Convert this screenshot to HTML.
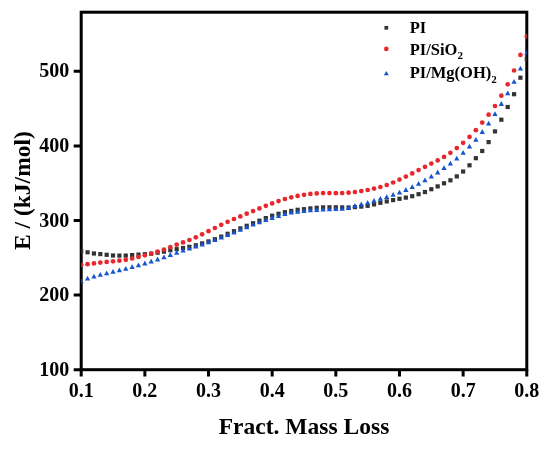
<!DOCTYPE html>
<html><head><meta charset="utf-8"><title>Activation energy vs fractional mass loss</title>
<style>html,body{margin:0;padding:0;background:#fff;}svg{display:block;filter:blur(0.35px);}</style>
</head><body>
<svg width="550" height="449" viewBox="0 0 550 449"><rect width="550" height="449" fill="#fff"/><rect x="81.2" y="12.2" width="445.60" height="357.50" fill="none" stroke="#000" stroke-width="3.0"/><path d="M81.20 369.70V376.40M144.86 369.70V376.40M208.51 369.70V376.40M272.17 369.70V376.40M335.83 369.70V376.40M399.49 369.70V376.40M463.14 369.70V376.40M526.80 369.70V376.40M81.20 369.70H73.70M81.20 295.10H73.70M81.20 220.50H73.70M81.20 145.90H73.70M81.20 71.30H73.70" stroke="#000" stroke-width="3.0" fill="none"/><defs><clipPath id="c"><rect x="81.2" y="0" width="445.60" height="449"/></clipPath></defs><g clip-path="url(#c)"><g fill="#333333"><rect x="79.10" y="249.10" width="4.20" height="4.20"/><rect x="85.47" y="250.20" width="4.20" height="4.20"/><rect x="91.83" y="251.40" width="4.20" height="4.20"/><rect x="98.20" y="252.00" width="4.20" height="4.20"/><rect x="104.56" y="252.70" width="4.20" height="4.20"/><rect x="110.93" y="253.40" width="4.20" height="4.20"/><rect x="117.29" y="253.50" width="4.20" height="4.20"/><rect x="123.66" y="253.50" width="4.20" height="4.20"/><rect x="130.03" y="253.00" width="4.20" height="4.20"/><rect x="136.39" y="252.50" width="4.20" height="4.20"/><rect x="142.76" y="252.10" width="4.20" height="4.20"/><rect x="149.12" y="251.60" width="4.20" height="4.20"/><rect x="155.49" y="250.60" width="4.20" height="4.20"/><rect x="161.85" y="249.50" width="4.20" height="4.20"/><rect x="168.22" y="248.10" width="4.20" height="4.20"/><rect x="174.59" y="247.10" width="4.20" height="4.20"/><rect x="180.95" y="245.90" width="4.20" height="4.20"/><rect x="187.32" y="244.70" width="4.20" height="4.20"/><rect x="193.68" y="243.20" width="4.20" height="4.20"/><rect x="200.05" y="241.30" width="4.20" height="4.20"/><rect x="206.41" y="239.30" width="4.20" height="4.20"/><rect x="212.78" y="237.10" width="4.20" height="4.20"/><rect x="219.15" y="234.50" width="4.20" height="4.20"/><rect x="225.51" y="231.70" width="4.20" height="4.20"/><rect x="231.88" y="229.10" width="4.20" height="4.20"/><rect x="238.24" y="226.30" width="4.20" height="4.20"/><rect x="244.61" y="223.70" width="4.20" height="4.20"/><rect x="250.97" y="221.10" width="4.20" height="4.20"/><rect x="257.34" y="218.60" width="4.20" height="4.20"/><rect x="263.71" y="216.00" width="4.20" height="4.20"/><rect x="270.07" y="213.60" width="4.20" height="4.20"/><rect x="276.44" y="211.70" width="4.20" height="4.20"/><rect x="282.80" y="210.10" width="4.20" height="4.20"/><rect x="289.17" y="208.80" width="4.20" height="4.20"/><rect x="295.53" y="207.70" width="4.20" height="4.20"/><rect x="301.90" y="207.10" width="4.20" height="4.20"/><rect x="308.27" y="206.30" width="4.20" height="4.20"/><rect x="314.63" y="205.70" width="4.20" height="4.20"/><rect x="321.00" y="205.30" width="4.20" height="4.20"/><rect x="327.36" y="205.20" width="4.20" height="4.20"/><rect x="333.73" y="205.20" width="4.20" height="4.20"/><rect x="340.09" y="205.30" width="4.20" height="4.20"/><rect x="346.46" y="205.40" width="4.20" height="4.20"/><rect x="352.83" y="205.00" width="4.20" height="4.20"/><rect x="359.19" y="204.50" width="4.20" height="4.20"/><rect x="365.56" y="203.70" width="4.20" height="4.20"/><rect x="371.92" y="202.30" width="4.20" height="4.20"/><rect x="378.29" y="200.70" width="4.20" height="4.20"/><rect x="384.65" y="199.30" width="4.20" height="4.20"/><rect x="391.02" y="198.00" width="4.20" height="4.20"/><rect x="397.39" y="196.70" width="4.20" height="4.20"/><rect x="403.75" y="195.50" width="4.20" height="4.20"/><rect x="410.12" y="194.10" width="4.20" height="4.20"/><rect x="416.48" y="192.10" width="4.20" height="4.20"/><rect x="422.85" y="189.90" width="4.20" height="4.20"/><rect x="429.21" y="187.10" width="4.20" height="4.20"/><rect x="435.58" y="184.30" width="4.20" height="4.20"/><rect x="441.95" y="181.20" width="4.20" height="4.20"/><rect x="448.31" y="178.20" width="4.20" height="4.20"/><rect x="454.68" y="174.30" width="4.20" height="4.20"/><rect x="461.04" y="169.40" width="4.20" height="4.20"/><rect x="467.41" y="163.20" width="4.20" height="4.20"/><rect x="473.77" y="156.10" width="4.20" height="4.20"/><rect x="480.14" y="148.90" width="4.20" height="4.20"/><rect x="486.51" y="140.00" width="4.20" height="4.20"/><rect x="492.87" y="129.30" width="4.20" height="4.20"/><rect x="499.24" y="117.60" width="4.20" height="4.20"/><rect x="505.60" y="104.90" width="4.20" height="4.20"/><rect x="511.97" y="92.10" width="4.20" height="4.20"/><rect x="518.33" y="75.60" width="4.20" height="4.20"/><rect x="524.70" y="57.00" width="4.20" height="4.20"/></g><g fill="#e8262b"><circle cx="81.20" cy="264.80" r="2.35"/><circle cx="87.57" cy="264.20" r="2.35"/><circle cx="93.93" cy="263.40" r="2.35"/><circle cx="100.30" cy="262.60" r="2.35"/><circle cx="106.66" cy="261.90" r="2.35"/><circle cx="113.03" cy="261.30" r="2.35"/><circle cx="119.39" cy="260.70" r="2.35"/><circle cx="125.76" cy="259.80" r="2.35"/><circle cx="132.13" cy="258.50" r="2.35"/><circle cx="138.49" cy="256.90" r="2.35"/><circle cx="144.86" cy="255.30" r="2.35"/><circle cx="151.22" cy="253.60" r="2.35"/><circle cx="157.59" cy="251.60" r="2.35"/><circle cx="163.95" cy="249.50" r="2.35"/><circle cx="170.32" cy="247.20" r="2.35"/><circle cx="176.69" cy="244.70" r="2.35"/><circle cx="183.05" cy="242.40" r="2.35"/><circle cx="189.42" cy="240.00" r="2.35"/><circle cx="195.78" cy="237.30" r="2.35"/><circle cx="202.15" cy="234.30" r="2.35"/><circle cx="208.51" cy="231.20" r="2.35"/><circle cx="214.88" cy="228.00" r="2.35"/><circle cx="221.25" cy="224.80" r="2.35"/><circle cx="227.61" cy="221.80" r="2.35"/><circle cx="233.98" cy="219.00" r="2.35"/><circle cx="240.34" cy="216.40" r="2.35"/><circle cx="246.71" cy="213.70" r="2.35"/><circle cx="253.07" cy="211.10" r="2.35"/><circle cx="259.44" cy="208.40" r="2.35"/><circle cx="265.81" cy="205.80" r="2.35"/><circle cx="272.17" cy="203.40" r="2.35"/><circle cx="278.54" cy="201.10" r="2.35"/><circle cx="284.90" cy="199.00" r="2.35"/><circle cx="291.27" cy="197.30" r="2.35"/><circle cx="297.63" cy="195.90" r="2.35"/><circle cx="304.00" cy="194.80" r="2.35"/><circle cx="310.37" cy="193.90" r="2.35"/><circle cx="316.73" cy="193.40" r="2.35"/><circle cx="323.10" cy="193.10" r="2.35"/><circle cx="329.46" cy="193.10" r="2.35"/><circle cx="335.83" cy="193.20" r="2.35"/><circle cx="342.19" cy="193.10" r="2.35"/><circle cx="348.56" cy="192.70" r="2.35"/><circle cx="354.93" cy="192.00" r="2.35"/><circle cx="361.29" cy="191.10" r="2.35"/><circle cx="367.66" cy="190.00" r="2.35"/><circle cx="374.02" cy="188.60" r="2.35"/><circle cx="380.39" cy="187.00" r="2.35"/><circle cx="386.75" cy="185.00" r="2.35"/><circle cx="393.12" cy="182.50" r="2.35"/><circle cx="399.49" cy="179.60" r="2.35"/><circle cx="405.85" cy="176.60" r="2.35"/><circle cx="412.22" cy="173.40" r="2.35"/><circle cx="418.58" cy="170.10" r="2.35"/><circle cx="424.95" cy="166.80" r="2.35"/><circle cx="431.31" cy="163.60" r="2.35"/><circle cx="437.68" cy="160.40" r="2.35"/><circle cx="444.05" cy="156.90" r="2.35"/><circle cx="450.41" cy="152.80" r="2.35"/><circle cx="456.78" cy="148.10" r="2.35"/><circle cx="463.14" cy="142.80" r="2.35"/><circle cx="469.51" cy="136.90" r="2.35"/><circle cx="475.87" cy="130.20" r="2.35"/><circle cx="482.24" cy="122.60" r="2.35"/><circle cx="488.61" cy="114.70" r="2.35"/><circle cx="494.97" cy="106.00" r="2.35"/><circle cx="501.34" cy="95.70" r="2.35"/><circle cx="507.70" cy="84.30" r="2.35"/><circle cx="514.07" cy="70.50" r="2.35"/><circle cx="520.43" cy="54.90" r="2.35"/><circle cx="526.80" cy="36.40" r="2.35"/></g><g fill="#1556cf"><path d="M81.20 278.40L83.85 283.20L78.55 283.20Z"/><path d="M87.57 275.80L90.22 280.60L84.92 280.60Z"/><path d="M93.93 273.80L96.58 278.60L91.28 278.60Z"/><path d="M100.30 272.00L102.95 276.80L97.65 276.80Z"/><path d="M106.66 270.40L109.31 275.20L104.01 275.20Z"/><path d="M113.03 268.90L115.68 273.70L110.38 273.70Z"/><path d="M119.39 267.50L122.04 272.30L116.74 272.30Z"/><path d="M125.76 265.90L128.41 270.70L123.11 270.70Z"/><path d="M132.13 264.20L134.78 269.00L129.48 269.00Z"/><path d="M138.49 262.40L141.14 267.20L135.84 267.20Z"/><path d="M144.86 260.60L147.51 265.40L142.21 265.40Z"/><path d="M151.22 258.70L153.87 263.50L148.57 263.50Z"/><path d="M157.59 256.60L160.24 261.40L154.94 261.40Z"/><path d="M163.95 254.40L166.60 259.20L161.30 259.20Z"/><path d="M170.32 252.10L172.97 256.90L167.67 256.90Z"/><path d="M176.69 249.90L179.34 254.70L174.04 254.70Z"/><path d="M183.05 247.80L185.70 252.60L180.40 252.60Z"/><path d="M189.42 245.70L192.07 250.50L186.77 250.50Z"/><path d="M195.78 243.60L198.43 248.40L193.13 248.40Z"/><path d="M202.15 241.60L204.80 246.40L199.50 246.40Z"/><path d="M208.51 239.50L211.16 244.30L205.86 244.30Z"/><path d="M214.88 237.30L217.53 242.10L212.23 242.10Z"/><path d="M221.25 234.80L223.90 239.60L218.60 239.60Z"/><path d="M227.61 232.20L230.26 237.00L224.96 237.00Z"/><path d="M233.98 229.70L236.63 234.50L231.33 234.50Z"/><path d="M240.34 227.00L242.99 231.80L237.69 231.80Z"/><path d="M246.71 224.40L249.36 229.20L244.06 229.20Z"/><path d="M253.07 221.80L255.72 226.60L250.42 226.60Z"/><path d="M259.44 219.40L262.09 224.20L256.79 224.20Z"/><path d="M265.81 217.20L268.46 222.00L263.16 222.00Z"/><path d="M272.17 215.10L274.82 219.90L269.52 219.90Z"/><path d="M278.54 213.10L281.19 217.90L275.89 217.90Z"/><path d="M284.90 211.20L287.55 216.00L282.25 216.00Z"/><path d="M291.27 209.60L293.92 214.40L288.62 214.40Z"/><path d="M297.63 209.00L300.28 213.80L294.98 213.80Z"/><path d="M304.00 208.10L306.65 212.90L301.35 212.90Z"/><path d="M310.37 207.50L313.02 212.30L307.72 212.30Z"/><path d="M316.73 207.10L319.38 211.90L314.08 211.90Z"/><path d="M323.10 206.80L325.75 211.60L320.45 211.60Z"/><path d="M329.46 206.50L332.11 211.30L326.81 211.30Z"/><path d="M335.83 206.30L338.48 211.10L333.18 211.10Z"/><path d="M342.19 206.00L344.84 210.80L339.54 210.80Z"/><path d="M348.56 205.30L351.21 210.10L345.91 210.10Z"/><path d="M354.93 203.10L357.58 207.90L352.28 207.90Z"/><path d="M361.29 201.60L363.94 206.40L358.64 206.40Z"/><path d="M367.66 199.90L370.31 204.70L365.01 204.70Z"/><path d="M374.02 198.00L376.67 202.80L371.37 202.80Z"/><path d="M380.39 195.90L383.04 200.70L377.74 200.70Z"/><path d="M386.75 194.20L389.40 199.00L384.10 199.00Z"/><path d="M393.12 192.00L395.77 196.80L390.47 196.80Z"/><path d="M399.49 189.70L402.14 194.50L396.84 194.50Z"/><path d="M405.85 187.10L408.50 191.90L403.20 191.90Z"/><path d="M412.22 184.20L414.87 189.00L409.57 189.00Z"/><path d="M418.58 180.90L421.23 185.70L415.93 185.70Z"/><path d="M424.95 177.40L427.60 182.20L422.30 182.20Z"/><path d="M431.31 173.70L433.96 178.50L428.66 178.50Z"/><path d="M437.68 169.60L440.33 174.40L435.03 174.40Z"/><path d="M444.05 165.30L446.70 170.10L441.40 170.10Z"/><path d="M450.41 160.80L453.06 165.60L447.76 165.60Z"/><path d="M456.78 155.70L459.43 160.50L454.13 160.50Z"/><path d="M463.14 150.00L465.79 154.80L460.49 154.80Z"/><path d="M469.51 143.80L472.16 148.60L466.86 148.60Z"/><path d="M475.87 137.00L478.52 141.80L473.22 141.80Z"/><path d="M482.24 129.10L484.89 133.90L479.59 133.90Z"/><path d="M488.61 120.80L491.26 125.60L485.96 125.60Z"/><path d="M494.97 111.20L497.62 116.00L492.32 116.00Z"/><path d="M501.34 101.10L503.99 105.90L498.69 105.90Z"/><path d="M507.70 90.40L510.35 95.20L505.05 95.20Z"/><path d="M514.07 79.00L516.72 83.80L511.42 83.80Z"/><path d="M520.43 65.80L523.08 70.60L517.78 70.60Z"/><path d="M526.80 50.00L529.45 54.80L524.15 54.80Z"/></g></g><g font-family="'Liberation Serif', 'Times New Roman', serif" font-weight="bold" font-size="20" fill="#000"><text x="81.20" y="397.0" text-anchor="middle">0.1</text><text x="144.86" y="397.0" text-anchor="middle">0.2</text><text x="208.51" y="397.0" text-anchor="middle">0.3</text><text x="272.17" y="397.0" text-anchor="middle">0.4</text><text x="335.83" y="397.0" text-anchor="middle">0.5</text><text x="399.49" y="397.0" text-anchor="middle">0.6</text><text x="463.14" y="397.0" text-anchor="middle">0.7</text><text x="526.80" y="397.0" text-anchor="middle">0.8</text><text x="69.3" y="375.70" text-anchor="end">100</text><text x="69.3" y="301.10" text-anchor="end">200</text><text x="69.3" y="226.50" text-anchor="end">300</text><text x="69.3" y="151.90" text-anchor="end">400</text><text x="69.3" y="77.30" text-anchor="end">500</text></g><text transform="translate(304 433.6) scale(0.985 1)" text-anchor="middle" font-family="'Liberation Serif', 'Times New Roman', serif" font-weight="bold" font-size="23.9">Fract. Mass Loss</text><text transform="translate(30.1 190.6) rotate(-90) scale(0.98 1)" text-anchor="middle" font-family="'Liberation Serif', 'Times New Roman', serif" font-weight="bold" font-size="24.0">E / (kJ/mol)</text><g fill="#333333"><rect x="384.45" y="25.95" width="3.70" height="3.70"/></g><g fill="#e8262b"><circle cx="386.30" cy="48.90" r="2.30"/></g><g fill="#1556cf"><path d="M386.30 71.00L388.80 75.20L383.80 75.20Z"/></g><g font-family="'Liberation Serif', 'Times New Roman', serif" font-weight="bold" font-size="16.5" fill="#000"><text x="409.7" y="33.2">PI</text><text x="409.7" y="54.6">PI/SiO<tspan font-size="11" dy="4.6">2</tspan></text><text x="409.7" y="78.4">PI/Mg(OH)<tspan font-size="11" dy="4.9">2</tspan></text></g></svg>
</body></html>
